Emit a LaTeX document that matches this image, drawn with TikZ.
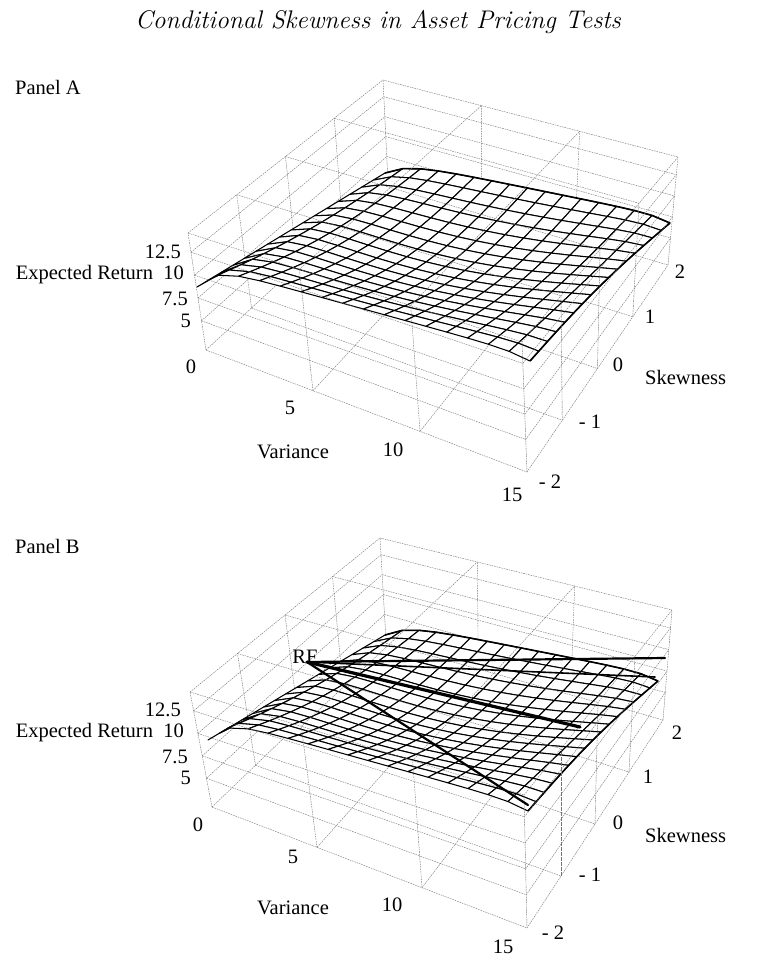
\documentclass[tikz,border=0pt]{standalone}
\usepackage{fontspec}
\newfontfamily\tms{Liberation Serif}
\begin{document}
\begin{tikzpicture}[x=1pt,y=-1pt,
  fgrid/.style={black!55,line width=0.4pt,dash pattern=on 1.6pt off 0.9pt},
  meshq/.style={fill=white,draw=black,line width=1.05pt,line join=round},
  rim/.style={draw=black,line width=1.6pt,line join=round},
  lab/.style={font=\tms\fontsize{20.5}{22}\selectfont,inner sep=0pt},
  rfl/.style={black,line cap=round}]
\useasboundingbox (0,0) rectangle (756,978);
\newcommand\setcorners[8]{%
  \def\cornA{#1}\def\cornB{#2}\def\cornC{#3}\def\cornD{#4}%
  \def\cornE{#5}\def\cornF{#6}\def\cornG{#7}\def\cornH{#8}}
\def\getxy#1,#2\relax{\def\gx{#1}\def\gy{#2}}
\newcommand\proj[4]{%
  \edef\pu{#1}\edef\pv{#2}\edef\pw{#3}%
  \expandafter\getxy\cornA\relax\let\xa\gx\let\ya\gy
  \expandafter\getxy\cornB\relax\let\xb\gx\let\yb\gy
  \expandafter\getxy\cornC\relax\let\xc\gx\let\yc\gy
  \expandafter\getxy\cornD\relax\let\xd\gx\let\yd\gy
  \expandafter\getxy\cornE\relax\let\xe\gx\let\ye\gy
  \expandafter\getxy\cornF\relax\let\xf\gx\let\yf\gy
  \expandafter\getxy\cornG\relax\let\xg\gx\let\yg\gy
  \expandafter\getxy\cornH\relax\let\xh\gx\let\yh\gy
  \pgfmathsetmacro\qx{(1-\pw)*((1-\pu)*(1-\pv)*\xa+\pu*(1-\pv)*\xb+(1-\pu)*\pv*\xc+\pu*\pv*\xd)+\pw*((1-\pu)*(1-\pv)*\xe+\pu*(1-\pv)*\xf+(1-\pu)*\pv*\xg+\pu*\pv*\xh)}%
  \pgfmathsetmacro\qy{(1-\pw)*((1-\pu)*(1-\pv)*\ya+\pu*(1-\pv)*\yb+(1-\pu)*\pv*\yc+\pu*\pv*\yd)+\pw*((1-\pu)*(1-\pv)*\ye+\pu*(1-\pv)*\yf+(1-\pu)*\pv*\yg+\pu*\pv*\yh)}%
  \coordinate (#4) at (\qx,\qy);}
\newcommand\seg[6]{\proj{#1}{#2}{#3}{sa}\proj{#4}{#5}{#6}{sb}\draw[fgrid] (sa) -- (sb);}
\newcommand\backfaces{%
  \foreach \u in {0,0.3333,0.6667,1} {\seg{\u}{0}{0}{\u}{1}{0}}
  \foreach \v in {0,0.25,0.5,0.75,1} {\seg{0}{\v}{0}{1}{\v}{0}}
  \foreach \v in {0,0.25,0.5,0.75,1} {\seg{0}{\v}{0}{0}{\v}{1}}
  \foreach \w in {0.25,0.445,0.64,0.836,1} {\seg{0}{0}{\w}{0}{1}{\w}}
  \foreach \u in {0.3333,0.6667,1} {\seg{\u}{1}{0}{\u}{1}{1}}
  \foreach \w in {0.25,0.445,0.64,0.836,1} {\seg{0}{1}{\w}{1}{1}{\w}}}
\newcommand\frontfaces{%
  \foreach \u in {0.3333,0.6667,1} {\seg{\u}{0}{1}{\u}{1}{1}}
  \foreach \v in {0,0.25,0.5,0.75} {\seg{0}{\v}{1}{1}{\v}{1}}
  \foreach \u in {0.3333,0.6667,1} {\seg{\u}{0}{0}{\u}{0}{1}}
  \foreach \w in {0.25,0.445,0.64,0.836} {\seg{0}{0}{\w}{1}{0}{\w}}
  \foreach \v in {0.25,0.5,0.75} {\seg{1}{\v}{0}{1}{\v}{1}}
  \foreach \w in {0.25,0.445,0.64,0.836} {\seg{1}{0}{\w}{1}{1}{\w}}}
% surface in screen space: corners FL FR BL BR
\newcommand\surface[9]{%
  \foreach \i in {0,...,16}{\foreach \j in {0,...,16}{%
    \pgfmathsetmacro\uu{\i/16}\pgfmathsetmacro\vw{\j/16}%
    \pgfmathsetmacro\hh{(1-\vw)*(1-\vw)*24*(1-exp(-\uu/0.05))*(1-\uu)-15*sin(180*\uu)*sin(180*\vw)+14*\vw*(1-exp(-\uu/0.08))*(1-\uu)-6*exp(-(1-\uu)/0.06)*(1-sin(180*\vw))}%
    \pgfmathsetmacro\qx{(1-\uu)*(1-\vw)*#2+\uu*(1-\vw)*#4+(1-\uu)*\vw*#6+\uu*\vw*#8}%
    \pgfmathsetmacro\qy{(1-\uu)*(1-\vw)*#3+\uu*(1-\vw)*#5+(1-\uu)*\vw*#7+\uu*\vw*#9-\hh}%
    \coordinate (#1s\i-\j) at (\qx,\qy);}}%
  \foreach \j in {15,14,...,0}{\foreach \i in {0,...,15}{%
    \pgfmathtruncatemacro\ii{\i+1}\pgfmathtruncatemacro\jj{\j+1}%
    \filldraw[meshq] (#1s\i-\j) -- (#1s\ii-\j) -- (#1s\ii-\jj) -- (#1s\i-\jj) -- cycle;}}%
  \draw[rim] (#1s0-16) \foreach \i in {1,...,16}{ -- (#1s\i-16)};
  \draw[rim] (#1s16-0) \foreach \j in {1,...,16}{ -- (#1s16-\j)};}

\node[font=\itshape\fontsize{25.5}{30}\selectfont] (title) at (378,22) {Conditional Skewness in Asset Pricing Tests};

% ---------- Panel A
\node[lab,anchor=west] (pa) at (15,87) {Panel A};
\setcorners{206,350}{527,472}{388,182}{668,265}{188,233}{522,342}{383,80}{678,157}
\backfaces
\surface{A}{197}{287}{530}{355}{385}{173}{670}{217}
\frontfaces
\node[lab,anchor=east] (az125) at (181,252) {12.5};
\node[lab,anchor=east] (az10) at (184,275) {Expected Return\ \ 10};
\node[lab,anchor=east] (az75) at (188,299) {7.5};
\node[lab,anchor=east] (az5) at (191,321) {5};
\node[lab] (av0) at (191,367) {0};
\node[lab] (av5) at (290,408) {5};
\node[lab] (av10) at (393,450) {10};
\node[lab] (av15) at (512,495) {15};
\node[lab] (avar) at (293,452) {Variance};
\node[lab] (as2m) at (550,482) {- 2};
\node[lab] (as1m) at (590,422) {- 1};
\node[lab] (as0) at (618,365) {0};
\node[lab] (as1) at (650,317) {1};
\node[lab] (as2) at (680,272) {2};
\node[lab,anchor=west] (askew) at (645,377) {Skewness};

% ---------- Panel B
\node[lab,anchor=west] (pb) at (15,546) {Panel B};
\setcorners{212,807}{527,928}{386,640}{663,720}{190,692}{524,795}{380,538}{672,610}
\backfaces
\surface{B}{208}{740}{528}{805}{385}{635}{658}{675}
\frontfaces
\coordinate (rf) at (307,662);
\coordinate (e1) at (665,658);
\coordinate (e2) at (655,677);
\coordinate (e3) at (580,727);
\coordinate (e4) at (528,805);
\draw[rfl,line width=2.2pt] (rf) -- (e1);
\draw[rfl,line width=1.6pt] (rf) -- (e2);
\draw[rfl,line width=3.2pt] (rf) -- (e3);
\draw[rfl,line width=2.2pt] (rf) -- (e4);
\node[lab,anchor=south] (rfl) at (305,664) {RF};
\node[lab,anchor=east] (bz125) at (181,710) {12.5};
\node[lab,anchor=east] (bz10) at (184,733) {Expected Return\ \ 10};
\node[lab,anchor=east] (bz75) at (188,757) {7.5};
\node[lab,anchor=east] (bz5) at (191,778) {5};
\node[lab] (bv0) at (198,825) {0};
\node[lab] (bv5) at (293,857) {5};
\node[lab] (bv10) at (392,905) {10};
\node[lab] (bv15) at (503,947) {15};
\node[lab] (bvar) at (293,908) {Variance};
\node[lab] (bs2m) at (553,933) {- 2};
\node[lab] (bs1m) at (590,875) {- 1};
\node[lab] (bs0) at (618,823) {0};
\node[lab] (bs1) at (648,777) {1};
\node[lab] (bs2) at (677,733) {2};
\node[lab,anchor=west] (bskew) at (645,835) {Skewness};
\end{tikzpicture}
\end{document}
